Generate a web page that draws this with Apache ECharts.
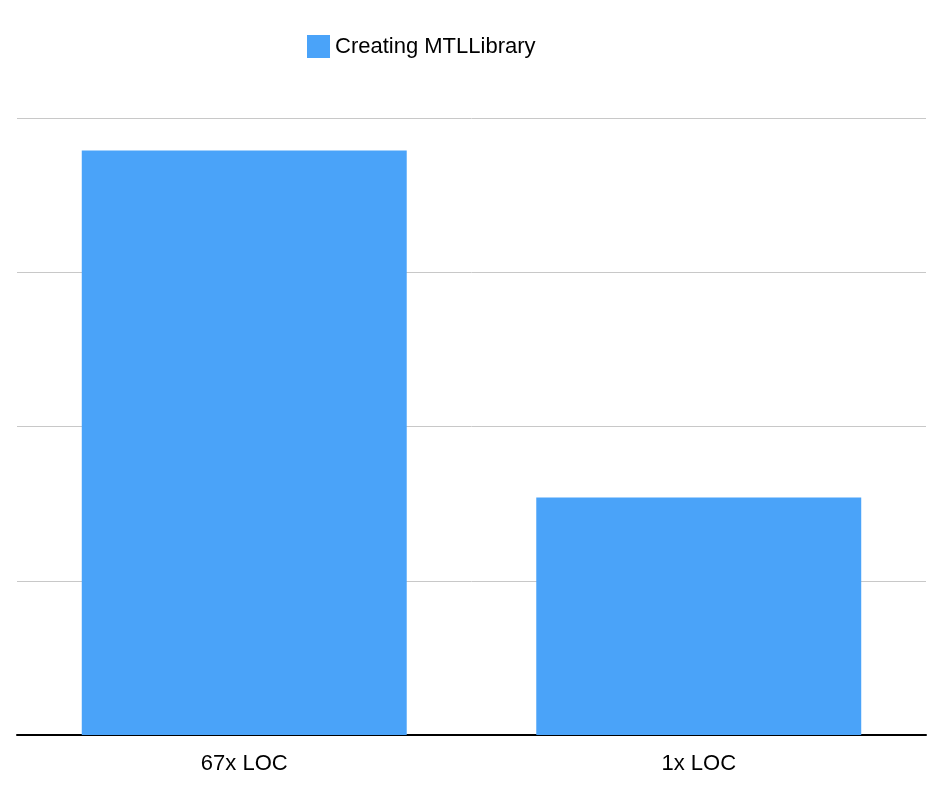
<!DOCTYPE html>
<html><head><meta charset="utf-8">
<script src="https://cdn.jsdelivr.net/npm/echarts@6/dist/echarts.min.js"></script>
<style>html,body{margin:0;padding:0;background:#fff}#c{width:946px;height:806px}</style>
</head><body><div id="c"></div>
<script>
const categories = ["67x LOC", "1x LOC"];
const seriesName = "Creating MTLLibrary";
const values = [3.79, 1.54];
const chart = echarts.init(document.getElementById('c'));
chart.setOption({
  animation: false,
  legend: {left: 302, top: 30, itemWidth: 23, itemHeight: 23, itemGap: 10,
    textStyle: {fontSize: 22, color: '#000', fontFamily: 'Liberation Sans, Arial'},
    data: [seriesName], icon: 'rect'},
  grid: {left: 17, right: 20, top: 118, bottom: 71},
  xAxis: {type: 'category', data: categories,
    axisLine: {lineStyle: {color: '#000', width: 2}}, axisTick: {show: false},
    axisLabel: {fontSize: 22, color: '#000', margin: 18, fontFamily: 'Liberation Sans, Arial'}},
  yAxis: {type: 'value', min: 0, max: 4, interval: 1, axisLabel: {show: false},
    splitLine: {lineStyle: {color: '#c8c8c8', width: 1}}},
  series: [{name: seriesName, type: 'bar', data: values, barWidth: '71.5%',
    itemStyle: {color: '#4aa3f9'}}]
});
</script></body></html>
